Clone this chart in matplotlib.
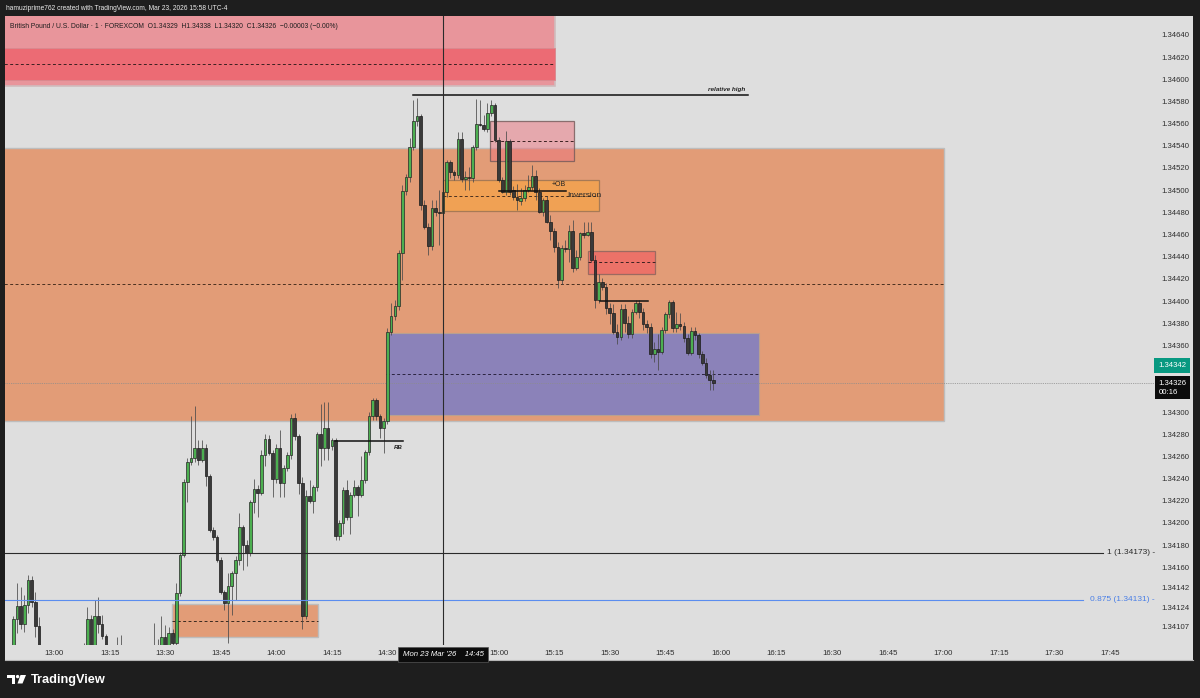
import matplotlib
matplotlib.use("Agg")
import matplotlib.pyplot as plt
import matplotlib.dates as mdates
from matplotlib.patches import Rectangle, Polygon, Circle
from matplotlib.transforms import blended_transform_factory
import numpy as np
import pandas as pd

plt.rcParams['font.family'] = ['Liberation Sans', 'DejaVu Sans']

# ---------------- data ----------------
DAY = "2026-03-23"
START = "12:48"

opens = [1.34078, 1.34086, 1.34113, 1.34125, 1.34109, 1.34126, 1.34149, 1.34129, 1.34107, 1.34086,
         1.34074, 1.34064, 1.34068, 1.34062, 1.34055, 1.34060, 1.34070, 1.34066, 1.34075, 1.34078,
         1.34082, 1.34086, 1.34113, 1.34088, 1.34116, 1.34109, 1.34098, 1.34088, 1.34075, 1.34080,
         1.34084, 1.34082, 1.34070, 1.34062, 1.34058, 1.34063, 1.34068, 1.34074, 1.34070, 1.34078,
         1.34082, 1.34088, 1.34097, 1.34090, 1.34101, 1.34092, 1.34137, 1.34171, 1.34237, 1.34255,
         1.34259, 1.34268, 1.34257, 1.34268, 1.34242, 1.34194, 1.34187, 1.34167, 1.34138, 1.34128,
         1.34143, 1.34155, 1.34167, 1.34196, 1.34180, 1.34173, 1.34219, 1.34231, 1.34227, 1.34261,
         1.34276, 1.34263, 1.34240, 1.34268, 1.34236, 1.34250, 1.34261, 1.34295, 1.34278, 1.34236,
         1.34116, 1.34224, 1.34220, 1.34232, 1.34280, 1.34268, 1.34286, 1.34269, 1.34275, 1.34188,
         1.34200, 1.34230, 1.34205, 1.34225, 1.34232, 1.34225, 1.34239, 1.34264, 1.34296, 1.34311,
         1.34296, 1.34286, 1.34292, 1.34372, 1.34387, 1.34396, 1.34443, 1.34499, 1.34512, 1.34539,
         1.34562, 1.34567, 1.34487, 1.34467, 1.34450, 1.34484, 1.34480, 1.34479, 1.34498, 1.34525,
         1.34516, 1.34514, 1.34546, 1.34510, 1.34512, 1.34511, 1.34539, 1.34560, 1.34559, 1.34555,
         1.34570, 1.34577, 1.34545, 1.34509, 1.34498, 1.34544, 1.34500, 1.34494, 1.34490, 1.34493,
         1.34500, 1.34503, 1.34513, 1.34498, 1.34480, 1.34491, 1.34471, 1.34463, 1.34449, 1.34419,
         1.34448, 1.34447, 1.34463, 1.34430, 1.34440, 1.34461, 1.34460, 1.34462, 1.34437, 1.34401,
         1.34417, 1.34413, 1.34394, 1.34389, 1.34372, 1.34368, 1.34393, 1.34380, 1.34370, 1.34390,
         1.34398, 1.34390, 1.34379, 1.34377, 1.34352, 1.34357, 1.34354, 1.34374, 1.34388, 1.34399,
         1.34376, 1.34379, 1.34378, 1.34367, 1.34353, 1.34373, 1.34369, 1.34352, 1.34344, 1.34333,
         1.34329]

highs = [1.34085, 1.34116, 1.34146, 1.34142, 1.34135, 1.34153, 1.34152, 1.34138, 1.34115, 1.34088,
         1.34080, 1.34072, 1.34078, 1.34070, 1.34066, 1.34075, 1.34082, 1.34079, 1.34085, 1.34086,
         1.34092, 1.34124, 1.34117, 1.34131, 1.34133, 1.34117, 1.34100, 1.34089, 1.34085, 1.34097,
         1.34099, 1.34086, 1.34078, 1.34068, 1.34066, 1.34072, 1.34078, 1.34083, 1.34081, 1.34110,
         1.34095, 1.34116, 1.34108, 1.34106, 1.34104, 1.34146, 1.34174, 1.34240, 1.34259, 1.34296,
         1.34305, 1.34275, 1.34275, 1.34271, 1.34244, 1.34196, 1.34189, 1.34169, 1.34140, 1.34155,
         1.34157, 1.34170, 1.34209, 1.34198, 1.34185, 1.34221, 1.34240, 1.34234, 1.34266, 1.34280,
         1.34279, 1.34266, 1.34271, 1.34284, 1.34252, 1.34264, 1.34298, 1.34299, 1.34280, 1.34241,
         1.34230, 1.34239, 1.34234, 1.34282, 1.34307, 1.34309, 1.34309, 1.34277, 1.34277, 1.34203,
         1.34232, 1.34239, 1.34228, 1.34239, 1.34234, 1.34260, 1.34266, 1.34300, 1.34313, 1.34313,
         1.34298, 1.34295, 1.34376, 1.34398, 1.34401, 1.34446, 1.34505, 1.34515, 1.34547, 1.34581,
         1.34583, 1.34569, 1.34491, 1.34470, 1.34491, 1.34491, 1.34500, 1.34500, 1.34527, 1.34527,
         1.34518, 1.34552, 1.34552, 1.34517, 1.34521, 1.34541, 1.34582, 1.34581, 1.34568, 1.34579,
         1.34581, 1.34579, 1.34548, 1.34512, 1.34553, 1.34546, 1.34504, 1.34506, 1.34502, 1.34505,
         1.34514, 1.34523, 1.34518, 1.34502, 1.34493, 1.34495, 1.34478, 1.34466, 1.34453, 1.34451,
         1.34455, 1.34469, 1.34473, 1.34446, 1.34462, 1.34471, 1.34471, 1.34471, 1.34442, 1.34424,
         1.34421, 1.34416, 1.34398, 1.34397, 1.34379, 1.34397, 1.34397, 1.34387, 1.34393, 1.34401,
         1.34401, 1.34394, 1.34383, 1.34380, 1.34363, 1.34370, 1.34377, 1.34390, 1.34401, 1.34401,
         1.34390, 1.34389, 1.34381, 1.34370, 1.34377, 1.34377, 1.34371, 1.34355, 1.34349, 1.34338,
         1.34338]

lows = [1.34070, 1.34081, 1.34101, 1.34104, 1.34102, 1.34119, 1.34124, 1.34097, 1.34077, 1.34070,
        1.34060, 1.34055, 1.34058, 1.34050, 1.34048, 1.34056, 1.34062, 1.34060, 1.34068, 1.34070,
        1.34072, 1.34081, 1.34086, 1.34086, 1.34101, 1.34095, 1.34081, 1.34070, 1.34068, 1.34072,
        1.34076, 1.34066, 1.34058, 1.34050, 1.34052, 1.34057, 1.34060, 1.34066, 1.34065, 1.34070,
        1.34075, 1.34081, 1.34088, 1.34086, 1.34088, 1.34089, 1.34134, 1.34169, 1.34219, 1.34252,
        1.34255, 1.34252, 1.34255, 1.34233, 1.34192, 1.34185, 1.34165, 1.34136, 1.34122, 1.34092,
        1.34117, 1.34131, 1.34162, 1.34158, 1.34161, 1.34170, 1.34209, 1.34205, 1.34225, 1.34251,
        1.34261, 1.34223, 1.34236, 1.34223, 1.34223, 1.34247, 1.34258, 1.34275, 1.34226, 1.34104,
        1.34113, 1.34218, 1.34209, 1.34229, 1.34251, 1.34257, 1.34257, 1.34266, 1.34185, 1.34185,
        1.34190, 1.34203, 1.34190, 1.34223, 1.34206, 1.34223, 1.34236, 1.34261, 1.34293, 1.34293,
        1.34277, 1.34263, 1.34289, 1.34369, 1.34383, 1.34392, 1.34419, 1.34496, 1.34507, 1.34536,
        1.34558, 1.34482, 1.34465, 1.34442, 1.34446, 1.34477, 1.34451, 1.34475, 1.34494, 1.34511,
        1.34509, 1.34511, 1.34507, 1.34500, 1.34500, 1.34507, 1.34536, 1.34558, 1.34553, 1.34552,
        1.34567, 1.34543, 1.34507, 1.34497, 1.34496, 1.34496, 1.34491, 1.34482, 1.34487, 1.34490,
        1.34498, 1.34500, 1.34491, 1.34479, 1.34477, 1.34470, 1.34455, 1.34444, 1.34412, 1.34415,
        1.34444, 1.34435, 1.34426, 1.34428, 1.34437, 1.34457, 1.34459, 1.34435, 1.34394, 1.34398,
        1.34410, 1.34388, 1.34379, 1.34370, 1.34361, 1.34365, 1.34372, 1.34367, 1.34367, 1.34388,
        1.34385, 1.34374, 1.34371, 1.34349, 1.34345, 1.34338, 1.34352, 1.34371, 1.34385, 1.34372,
        1.34372, 1.34374, 1.34363, 1.34351, 1.34351, 1.34365, 1.34349, 1.34342, 1.34331, 1.34320,
        1.34320]

closes = [1.34080, 1.34113, 1.34125, 1.34109, 1.34126, 1.34149, 1.34129, 1.34107, 1.34086, 1.34074,
          1.34064, 1.34068, 1.34062, 1.34055, 1.34060, 1.34070, 1.34066, 1.34075, 1.34078, 1.34082,
          1.34086, 1.34113, 1.34088, 1.34116, 1.34109, 1.34098, 1.34088, 1.34075, 1.34080, 1.34084,
          1.34082, 1.34070, 1.34062, 1.34058, 1.34063, 1.34068, 1.34074, 1.34070, 1.34078, 1.34082,
          1.34088, 1.34097, 1.34090, 1.34101, 1.34092, 1.34137, 1.34171, 1.34237, 1.34255, 1.34259,
          1.34268, 1.34257, 1.34268, 1.34242, 1.34194, 1.34187, 1.34167, 1.34138, 1.34128, 1.34143,
          1.34155, 1.34167, 1.34196, 1.34180, 1.34173, 1.34219, 1.34231, 1.34227, 1.34261, 1.34276,
          1.34263, 1.34240, 1.34268, 1.34236, 1.34250, 1.34261, 1.34295, 1.34278, 1.34236, 1.34116,
          1.34224, 1.34220, 1.34232, 1.34280, 1.34268, 1.34286, 1.34268, 1.34275, 1.34188, 1.34200,
          1.34230, 1.34205, 1.34225, 1.34232, 1.34225, 1.34239, 1.34264, 1.34296, 1.34311, 1.34296,
          1.34286, 1.34292, 1.34372, 1.34387, 1.34396, 1.34443, 1.34499, 1.34512, 1.34539, 1.34562,
          1.34567, 1.34487, 1.34467, 1.34450, 1.34484, 1.34480, 1.34479, 1.34498, 1.34525, 1.34516,
          1.34514, 1.34546, 1.34510, 1.34512, 1.34511, 1.34539, 1.34560, 1.34559, 1.34555, 1.34570,
          1.34577, 1.34545, 1.34509, 1.34498, 1.34544, 1.34498, 1.34494, 1.34491, 1.34493, 1.34500,
          1.34503, 1.34513, 1.34498, 1.34480, 1.34491, 1.34471, 1.34463, 1.34449, 1.34419, 1.34448,
          1.34447, 1.34463, 1.34430, 1.34440, 1.34461, 1.34460, 1.34462, 1.34437, 1.34401, 1.34417,
          1.34413, 1.34394, 1.34389, 1.34372, 1.34368, 1.34393, 1.34380, 1.34370, 1.34390, 1.34398,
          1.34390, 1.34379, 1.34377, 1.34352, 1.34357, 1.34354, 1.34374, 1.34388, 1.34399, 1.34376,
          1.34379, 1.34378, 1.34367, 1.34353, 1.34373, 1.34369, 1.34352, 1.34344, 1.34333, 1.34329,
          1.34326]

# price-axis labels (as shown by the chart)
ytick_values = [1.34640, 1.34620, 1.34600, 1.34580, 1.34560, 1.34540, 1.34520, 1.34500,
                1.34480, 1.34460, 1.34440, 1.34420, 1.34400, 1.34380, 1.34360, 1.34300,
                1.34280, 1.34260, 1.34240, 1.34220, 1.34200, 1.34180, 1.34160, 1.34142,
                1.34124, 1.34107]
# time-axis labels (14:45 is covered by the crosshair label)
xtick_labels = ["13:00", "13:15", "13:30", "13:45", "14:00", "14:15", "14:30",
                "15:00", "15:15", "15:30", "15:45", "16:00", "16:15", "16:30", "16:45",
                "17:00", "17:15", "17:30", "17:45"]
view_time = ["12:46:47", "17:57:42"]
view_price = [1.34090, 1.34657]

# zones: [start time, end time, low price, high price, mid (dashed) price]
zone_top_outer = ["12:30", "15:15:12", 1.34594, 1.34700, None]
zone_top_inner = ["12:30", "15:15:12", 1.34599, 1.34628, 1.34614]
zone_big = ["12:30", "17:00:12", 1.34292, 1.34538, 1.34415]
zone_purple = ["14:29:36", "16:10:18", 1.34297, 1.34371, 1.34334]
zone_pink = ["14:57:42", "15:20:24", 1.34526, 1.34562, 1.34544]
zone_inversion = ["14:45:00", "15:27:06", 1.34481, 1.34509, 1.34495]
zone_red = ["15:24:06", "15:42:12", 1.34424, 1.34445, 1.34435]
zone_low = ["13:31:48", "14:11:18", 1.34097, 1.34127, 1.34112]

# horizontal levels: [start, end, price]
level_relative_high = ["14:36:54", "16:07:18", 1.34586]
level_rb = ["14:15:48", "14:34:12", 1.34274]
level_ob = ["15:00:06", "15:18:12", 1.34499]
level_1400 = ["15:27:24", "15:40:18", 1.34400]
fib_1 = ["12:30", "17:43:06", 1.34173]
fib_0875 = ["12:30", "17:37:42", 1.34131]
last_price = 1.34326
bid_price = 1.34342
crosshair_time = "14:45"

# ---------------- style ----------------
FRAME = '#1e1e1e'
PANE = '#dedede'
UP = '#4caf50'
DOWN = '#3a3a3a'
EDGE = '#262626'
WICK = '#4a4a4a'

W, H = 1200, 698


def t(s):
    return mdates.date2num(pd.Timestamp(f"{DAY} {s}"))


def fr(x0, y0, x1, y1):
    return [x0 / W, 1 - y1 / H, (x1 - x0) / W, (y1 - y0) / H]


fig = plt.figure(figsize=(W / 100, H / 100), dpi=100, facecolor=FRAME)

bg = fig.add_axes([0, 0, 1, 1], zorder=-5)
bg.set_xlim(0, W); bg.set_ylim(H, 0); bg.axis('off')
bg.add_patch(Rectangle((5, 16), 1188, 644, fc=PANE, ec='none'))
bg.plot([5, 1193], [659.5, 659.5], color='#b5b5b5', lw=0.8)

ax = fig.add_axes(fr(5, 16, 1157, 645), zorder=1)
ax.set_facecolor('none')
for s in ax.spines.values():
    s.set_visible(False)


def zone(z, fc, ec, lw=0.8, dash_color='#3a2a2a', zo=1):
    x0, x1 = t(z[0]), t(z[1])
    ax.add_patch(Rectangle((x0, z[2]), x1 - x0, z[3] - z[2], fc=fc, ec=ec, lw=lw, zorder=zo))
    if z[4] is not None:
        ax.plot([x0, x1], [z[4], z[4]], color=dash_color, lw=0.7, ls=(0, (3, 2.5)),
                zorder=zo + 0.1)


zone(zone_big, '#e29c77', '#bdbdbd', lw=1.0, dash_color='#4a3020')
zone(zone_top_outer, '#e8959b', '#cfbcbd', lw=1.2)
zone(zone_top_inner, '#ec6b74', '#d88a90', lw=0.6, dash_color='#3a2020')
zone(zone_purple, '#8b82b9', '#b8a090', lw=0.8, dash_color='#2a2440', zo=1.2)
zone(zone_pink, (0.93, 0.45, 0.49, 0.5), (0.45, 0.35, 0.35, 0.8), lw=0.9,
     dash_color='#3a2020', zo=1.3)
zone(zone_inversion, '#f0a154', '#a77a55', lw=0.9, dash_color='#4a3020', zo=1.3)
zone(zone_red, '#ec7268', '#9c6a60', lw=0.9, dash_color='#3a2020', zo=1.3)
zone(zone_low, '#e29c77', '#bdbdbd', lw=1.0, dash_color='#3a2a20', zo=1.3)

# candles
times = pd.date_range(f"{DAY} {START}", periods=len(opens), freq="min")
x = mdates.date2num(times)
o, h, l, c = (np.array(v) for v in (opens, highs, lows, closes))
up = c >= o
bw = 0.72 / 1440
bottom = np.minimum(o, c)
height = np.maximum(np.abs(c - o), 0.000008)
ax.vlines(x, l, h, color=WICK, lw=0.7, alpha=0.8, zorder=3)
ax.bar(x[up], height[up], bottom=bottom[up], width=bw, color=UP, edgecolor=EDGE,
       linewidth=0.5, zorder=4)
ax.bar(x[~up], height[~up], bottom=bottom[~up], width=bw, color=DOWN, edgecolor='#1a1a1a',
       linewidth=0.5, zorder=4)

# levels
for lv in (level_relative_high, level_rb, level_ob, level_1400):
    ax.plot([t(lv[0]), t(lv[1])], [lv[2], lv[2]], color='#111111', lw=1.1, zorder=5)
ax.plot([t(fib_1[0]), t(fib_1[1])], [fib_1[2]] * 2, color='#2a2a2a', lw=0.8, zorder=5)
ax.plot([t(fib_0875[0]), t(fib_0875[1])], [fib_0875[2]] * 2, color='#5b8def', lw=0.8, zorder=5)
ax.axhline(last_price, color='#8c8c8c', lw=0.6, ls=(0, (1, 1.2)), zorder=2)
ax.axvline(t(crosshair_time), color='#2b2b2b', lw=0.8, zorder=6)

# annotations
ax.text(t("16:06:30"), 1.34591, "relative high", ha='right', va='center', fontsize=4.6,
        style='italic', weight='bold', color='#222222', zorder=7)
ax.text(t("14:32:48"), 1.34268, "RB", ha='center', va='center', fontsize=4.4,
        style='italic', weight='bold', color='#222222', zorder=7)
ax.text(t("15:16:18"), 1.34505, "+OB", ha='center', va='center', fontsize=5.0,
        color='#222222', zorder=7)
ax.text(t("15:18:30"), 1.34495, "Inversion", ha='left', va='center', fontsize=6.0,
        color='#2a2a2a', zorder=7)

bt = blended_transform_factory(ax.transAxes, ax.transData)
ax.text(0.9983, fib_1[2], "1 (1.34173) -", transform=bt, ha='right', va='center',
        fontsize=6.0, color='#2a2a2a', zorder=7)
ax.text(0.9983, fib_0875[2], "0.875 (1.34131) -", transform=bt, ha='right', va='center',
        fontsize=6.0, color='#4a7fe6', zorder=7)

# axes
ax.set_xlim(t(view_time[0]), t(view_time[1]))
ax.set_ylim(*view_price)
ax.set_xticks([t(s) for s in xtick_labels])
ax.set_xticklabels(xtick_labels)
ax.tick_params(axis='x', length=0, pad=3.5, labelsize=5.6, labelcolor='#2e2e2e')
ax.yaxis.tick_right()
ax.set_yticks(ytick_values)
ax.set_yticklabels([f"{v:.5f}" for v in ytick_values])
ax.tick_params(axis='y', length=0, pad=3.0, labelsize=5.6, labelcolor='#2e2e2e')

# price labels on axis
ax.text(1.0012, bid_price, f"{bid_price:.5f}", transform=bt, ha='left', va='center',
        fontsize=5.6, color='white', zorder=8, clip_on=False,
        bbox=dict(boxstyle='square,pad=0.5', fc='#089981', ec='none'))
ax.text(1.0012, 1.34322, f"{last_price:.5f}\n00:16", transform=bt, ha='left', va='center',
        fontsize=5.6, color='white', zorder=8, clip_on=False, linespacing=1.35,
        bbox=dict(boxstyle='square,pad=0.45', fc='#0c0c0c', ec='none'))

# crosshair time label
bx = blended_transform_factory(ax.transData, ax.transAxes)
ax.text(t(crosshair_time), -0.0095, "Mon 23 Mar '26    14:45", transform=bx, ha='center',
        va='top', fontsize=5.6, color='white', style='italic', zorder=8, clip_on=False,
        bbox=dict(boxstyle='square,pad=0.55', fc='#0c0c0c', ec='#555555', lw=0.5))

# overlay: header, legend, logo
ov = fig.add_axes([0, 0, 1, 1], zorder=10)
ov.set_xlim(0, W); ov.set_ylim(H, 0); ov.axis('off')
ov.text(6, 8.5, "hamuziprime762 created with TradingView.com, Mar 23, 2026 15:58 UTC-4",
        color='#ececec', fontsize=4.8, va='center', ha='left')
ov.text(10, 26, "British Pound / U.S. Dollar \u00b7 1 \u00b7 FOREXCOM  O1.34329  H1.34338  "
        "L1.34320  C1.34326  \u22120.00003 (\u22120.00%)",
        color='#1e1e1e', fontsize=4.9, va='center', ha='left')
# TradingView logo
ov.add_patch(Polygon([(7, 675), (15, 675), (15, 683.5), (11.5, 683.5), (11.5, 678.2), (7, 678.2)],
                     closed=True, fc='white', ec='none'))
ov.add_patch(Circle((17.6, 676.6), 1.7, fc='white', ec='none'))
ov.add_patch(Polygon([(20.5, 675), (26, 675), (22.5, 683.5), (17.5, 683.5)], closed=True,
                     fc='white', ec='none'))
ov.text(30.5, 679.5, "TradingView", color='white', fontsize=9.2, weight='bold',
        va='center', ha='left')

fig.savefig("out.png", dpi=100, facecolor=FRAME)
